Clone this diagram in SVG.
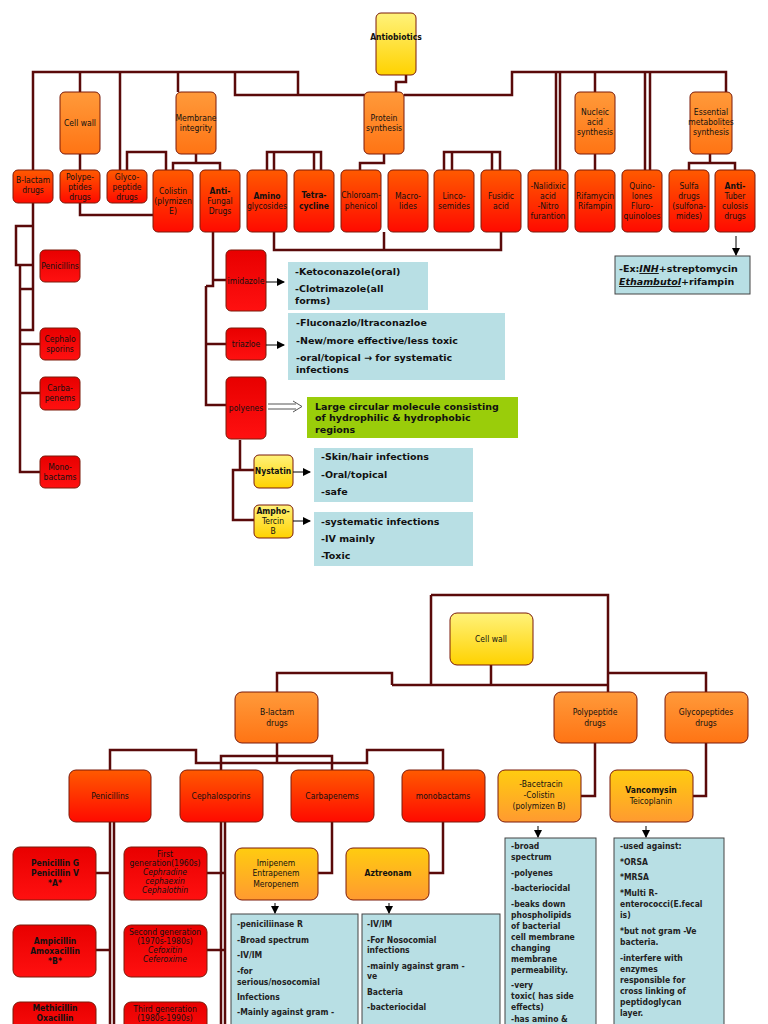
<svg xmlns="http://www.w3.org/2000/svg" width="768" height="1024" viewBox="0 0 768 1024">
<defs>
<linearGradient id="gy" x1="0" y1="0" x2="0" y2="1"><stop offset="0" stop-color="#fff27a"/><stop offset="1" stop-color="#ffd200"/></linearGradient>
<linearGradient id="go" x1="0" y1="0" x2="0" y2="1"><stop offset="0" stop-color="#ff9a3a"/><stop offset="1" stop-color="#ff7414"/></linearGradient>
<linearGradient id="gr" x1="0" y1="0" x2="0" y2="1"><stop offset="0" stop-color="#ff5a00"/><stop offset="1" stop-color="#ff0a00"/></linearGradient>
<linearGradient id="gd" x1="0" y1="0" x2="0" y2="1"><stop offset="0" stop-color="#e80000"/><stop offset="1" stop-color="#ff1010"/></linearGradient>
<linearGradient id="gyo" x1="0" y1="0" x2="0" y2="1"><stop offset="0" stop-color="#ffcc10"/><stop offset="1" stop-color="#ff9a30"/></linearGradient>
<marker id="ar" markerWidth="8" markerHeight="8" refX="7" refY="4" orient="auto" markerUnits="userSpaceOnUse"><path d="M0,0 L8,4 L0,8 z" fill="#000"/></marker>
</defs>
<style>
text{font-family:"DejaVu Sans Condensed","DejaVu Sans","Liberation Sans",sans-serif;font-size:8.5px;fill:#111;text-anchor:middle}
.b{font-weight:bold}
.n rect{stroke:#7a1a0a;stroke-width:1}
.y{fill:url(#gy)}.o{fill:url(#go)}.r{fill:url(#gr)}.d{fill:url(#gd)}.yo{fill:url(#gyo)}
.blue{fill:#b8dfe4;stroke:none}
.blue2{fill:#b8dfe4;stroke:#444;stroke-width:1}
.c path{fill:none;stroke:#5a0a0a;stroke-width:2.5}
.a{fill:none;stroke:#000;stroke-width:1;marker-end:url(#ar)}
.bt{font-family:"DejaVu Sans","Liberation Sans",sans-serif;font-size:9.5px;font-weight:bold;text-anchor:start}
.st{font-size:8.5px;text-anchor:start;font-weight:bold;fill:#222}
</style>
<rect width="768" height="1024" fill="#fff"/>

<g class="c">
<path d="M33,170 V72 H298 V95 M80,92 V72 M120,72 V170 M178,72 V92 M235,72 V95 H372 V92 M396,92 V82 H406 V75 M404,95 H512 V72 H726 V92 M556,72 V170 M560,72 V170 M595,72 V92 M645,72 V170 M650,72 V170"/>
<path d="M80,154 V170 M80,203 V215 H153 M127,170 V152 H166 V170 M196,154 V163 H173 V170 M196,163 H220 V170 M384,154 V163 H360 V170 M267,170 V152 H321 V170 M274,152 V170 M314,152 V170 M444,170 V152 H500 V170 M452,152 V170 M492,152 V170 M595,154 V170 M710,154 V163 H689 V170 M710,163 H735 V170"/>
<path d="M274,232 V250 H501 V232 M384,232 V250"/>
<path d="M33,203 V226 H16 V265 H33 M33,226 V330 H20 M20,265 V472 H40 M20,289 H33 M20,344 H40 M20,393 H40"/>
<path d="M213,232 V286 H206 M213,280 H226 M206,286 V405 H226 M206,344 H226 M240,440 V470 H233 V520 H254 M233,470 H254"/>
<path d="M431,595 V685 M431,595 H608 V692 M491,665 V685 M392,685 H608 M392,685 V673 H277 V692 M608,685 V673 H706 V692"/>
<path d="M277,743 V763 M110,770 V750 H196 V763 H367 V750 H443 V770 M221,770 V756 H332 V770 M595,743 V796 H581 M706,743 V796 H693"/>
<path d="M110,822 V1024 M110,873 H96 M110,950 H96 M114,822 V1024 M221,822 V1024 M207,873 H225 M207,950 H225 M225,822 V1024 M332,822 V873 H318 M443,822 V873 H429"/>
</g>

<g id="antibiotics" class="n"><rect class="y" x="376" y="13" width="40" height="62" rx="5"/><text class="b" x="396" y="40">Antiobiotics</text></g>
<g id="cellwall" class="n"><rect class="o" x="60" y="92" width="40" height="62" rx="5"/><text x="80" y="126">Cell wall</text></g>
<g id="membrane" class="n"><rect class="o" x="176" y="92" width="40" height="62" rx="5"/><text x="196" y="121">Membrane</text><text x="196" y="131">integrity</text></g>
<g id="protein" class="n"><rect class="o" x="364" y="92" width="40" height="62" rx="5"/><text x="384" y="121">Protein</text><text x="384" y="131">synthesis</text></g>
<g id="nucleic" class="n"><rect class="o" x="575" y="92" width="40" height="62" rx="5"/><text x="595" y="115">Nucleic</text><text x="595" y="125">acid</text><text x="595" y="135">synthesis</text></g>
<g id="essential" class="n"><rect class="o" x="690" y="92" width="42" height="62" rx="5"/><text x="711" y="115">Essential</text><text x="711" y="125">metabolites</text><text x="711" y="135">synthesis</text></g>

<g id="blactam" class="n"><rect class="r" x="13" y="170" width="40" height="33" rx="5"/><text x="33" y="183">B-lactam</text><text x="33" y="193">drugs</text></g>
<g id="polypep" class="n"><rect class="r" x="60" y="170" width="40" height="33" rx="5"/><text x="80" y="180">Polype-</text><text x="80" y="190">ptides</text><text x="80" y="200">drugs</text></g>
<g id="glycopep" class="n"><rect class="r" x="107" y="170" width="40" height="33" rx="5"/><text x="127" y="180">Glyco-</text><text x="127" y="190">peptide</text><text x="127" y="200">drugs</text></g>
<g id="colistin" class="n"><rect class="r" x="153" y="170" width="40" height="62" rx="5"/><text x="173" y="194">Colistin</text><text x="173" y="204">(plymizen</text><text x="173" y="214">E)</text></g>
<g id="antifungal" class="n"><rect class="r" x="200" y="170" width="40" height="62" rx="5"/><text class="b" x="220" y="194">Anti-</text><text x="220" y="204">Fungal</text><text x="220" y="214">Drugs</text></g>
<g id="amino" class="n"><rect class="r" x="247" y="170" width="40" height="62" rx="5"/><text class="b" x="267" y="199">Amino</text><text x="267" y="209">glycosides</text></g>
<g id="tetra" class="n"><rect class="r" x="294" y="170" width="40" height="62" rx="5"/><text class="b" x="314" y="198">Tetra-</text><text class="b" x="314" y="209">cycline</text></g>
<g id="chloram" class="n"><rect class="r" x="341" y="170" width="40" height="62" rx="5"/><text x="361" y="198">Chloroam-</text><text x="361" y="209">phenicol</text></g>
<g id="macro" class="n"><rect class="r" x="388" y="170" width="40" height="62" rx="5"/><text x="408" y="199">Macro-</text><text x="408" y="209">lides</text></g>
<g id="linco" class="n"><rect class="r" x="434" y="170" width="40" height="62" rx="5"/><text x="454" y="199">Linco-</text><text x="454" y="209">semides</text></g>
<g id="fusidic" class="n"><rect class="r" x="481" y="170" width="40" height="62" rx="5"/><text x="501" y="199">Fusidic</text><text x="501" y="209">acid</text></g>
<g id="nalidixic" class="n"><rect class="r" x="528" y="170" width="40" height="62" rx="5"/><text x="548" y="189">-Nalidixic</text><text x="548" y="199">acid</text><text x="548" y="209">-Nitro</text><text x="548" y="219">furantion</text></g>
<g id="rifamycin" class="n"><rect class="r" x="575" y="170" width="40" height="62" rx="5"/><text x="595" y="199">Rifamycin</text><text x="595" y="209">Rifampin</text></g>
<g id="quino" class="n"><rect class="r" x="622" y="170" width="40" height="62" rx="5"/><text x="642" y="189">Quino-</text><text x="642" y="199">lones</text><text x="642" y="209">Fluro-</text><text x="642" y="219">quinoloes</text></g>
<g id="sulfa" class="n"><rect class="r" x="669" y="170" width="40" height="62" rx="5"/><text x="689" y="189">Sulfa</text><text x="689" y="199">drugs</text><text x="689" y="209">(sulfona-</text><text x="689" y="219">mides)</text></g>
<g id="antituber" class="n"><rect class="r" x="715" y="170" width="40" height="62" rx="5"/><text class="b" x="735" y="189">Anti-</text><text x="735" y="199">Tuber</text><text x="735" y="209">culosis</text><text x="735" y="219">drugs</text></g>

<g id="penicillins1" class="n"><rect class="d" x="40" y="250" width="40" height="32" rx="5"/><text x="60" y="269">Penicillins</text></g>
<g id="cephalo1" class="n"><rect class="d" x="40" y="328" width="40" height="32" rx="5"/><text x="60" y="342">Cephalo</text><text x="60" y="352">sporins</text></g>
<g id="carba1" class="n"><rect class="d" x="40" y="377" width="40" height="33" rx="5"/><text x="60" y="391">Carba-</text><text x="60" y="401">penems</text></g>
<g id="mono1" class="n"><rect class="d" x="40" y="456" width="40" height="32" rx="5"/><text x="60" y="470">Mono-</text><text x="60" y="480">bactams</text></g>

<g id="imidazole" class="n"><rect class="d" x="226" y="250" width="40" height="61" rx="5"/><text x="246" y="284">imidazole</text></g>
<g id="triazole" class="n"><rect class="d" x="226" y="328" width="40" height="32" rx="5"/><text x="246" y="347">triazloe</text></g>
<g id="polyenes" class="n"><rect class="d" x="226" y="377" width="40" height="62" rx="5"/><text x="246" y="411">polyenes</text></g>
<g id="nystatin" class="n"><rect class="y" x="254" y="455" width="39" height="33" rx="5"/><text class="b" x="273" y="474">Nystatin</text></g>
<g id="ampho" class="n"><rect class="y" x="254" y="505" width="39" height="33" rx="5"/><text class="b" x="273" y="514">Ampho-</text><text x="273" y="524">Tercin</text><text x="273" y="534">B</text></g>

<g id="notes-top">
<rect class="blue" x="288" y="262" width="140" height="48"/>
<text class="bt" x="295" y="275">-Ketoconazole(oral)</text><text class="bt" x="295" y="292">-Clotrimazole(all</text><text class="bt" x="295" y="304">forms)</text>
<rect class="blue" x="288" y="313" width="217" height="67"/>
<text class="bt" x="296" y="326">-Fluconazlo/Itraconazloe</text><text class="bt" x="296" y="344">-New/more effective/less toxic</text><text class="bt" x="296" y="361">-oral/topical → for systematic</text><text class="bt" x="296" y="373">infections</text>
<rect x="307" y="397" width="211" height="41" fill="#9acd0a"/>
<text class="bt" x="315" y="410">Large circular molecule consisting</text><text class="bt" x="315" y="421">of hydrophilic &amp; hydrophobic</text><text class="bt" x="315" y="433">regions</text>
<rect class="blue" x="314" y="448" width="159" height="54"/>
<text class="bt" x="321" y="460">-Skin/hair infections</text><text class="bt" x="321" y="478">-Oral/topical</text><text class="bt" x="321" y="495">-safe</text>
<rect class="blue" x="314" y="512" width="159" height="54"/>
<text class="bt" x="321" y="525">-systematic infections</text><text class="bt" x="321" y="542">-IV mainly</text><text class="bt" x="321" y="559">-Toxic</text>
<rect class="blue2" x="615" y="256" width="135" height="38"/>
<text class="bt" x="619" y="272">-Ex:<tspan font-style="italic" text-decoration="underline">INH</tspan>+streptomycin</text>
<text class="bt" x="619" y="285"><tspan font-style="italic" text-decoration="underline">Ethambutol</tspan>+rifampin</text>
</g>
<g id="arrows-top">
<path class="a" d="M266,282 H284"/><path class="a" d="M266,345 H284"/><path class="a" d="M293,472 H310"/><path class="a" d="M293,521 H310"/><path class="a" d="M736,236 V255"/>
<path d="M268,404 H296 M268,409 H296 M293,401 L302,406.5 L293,412" fill="#fff" stroke="#555" stroke-width="1"/>
</g>

<g id="cellwall2" class="n"><rect class="y" x="450" y="613" width="83" height="52" rx="7"/><text x="491" y="642">Cell wall</text></g>
<g id="blactam2" class="n"><rect class="o" x="235" y="692" width="83" height="51" rx="7"/><text x="277" y="715">B-lactam</text><text x="277" y="726">drugs</text></g>
<g id="polypeptide2" class="n"><rect class="o" x="554" y="692" width="83" height="51" rx="7"/><text x="595" y="715">Polypeptide</text><text x="595" y="726">drugs</text></g>
<g id="glyco2" class="n"><rect class="o" x="665" y="692" width="83" height="51" rx="7"/><text x="706" y="715">Glycopeptides</text><text x="706" y="726">drugs</text></g>
<g id="penicillins2" class="n"><rect class="r" x="69" y="770" width="82" height="52" rx="7"/><text x="110" y="799">Penicillins</text></g>
<g id="cephalosporins2" class="n"><rect class="r" x="180" y="770" width="83" height="52" rx="7"/><text x="221" y="799">Cephalosporins</text></g>
<g id="carbapenems2" class="n"><rect class="r" x="291" y="770" width="83" height="52" rx="7"/><text x="332" y="799">Carbapenems</text></g>
<g id="monobactams2" class="n"><rect class="r" x="402" y="770" width="83" height="52" rx="7"/><text x="443" y="799">monobactams</text></g>
<g id="bacetracin" class="n"><rect class="yo" x="498" y="770" width="83" height="52" rx="7"/><text x="541" y="787">-Bacetracin</text><text x="539" y="798">-Colistin</text><text x="539" y="809">(polymizen B)</text></g>
<g id="vancomysin" class="n"><rect class="yo" x="610" y="770" width="83" height="52" rx="7"/><text class="b" x="651" y="793">Vancomysin</text><text x="651" y="804">Teicoplanin</text></g>

<g id="bl-boxes">
<g id="penG" class="n"><rect class="d" x="13" y="847" width="83" height="53" rx="7"/><text class="b" x="55" y="866">Penicillin G</text><text class="b" x="55" y="876">Penicillin V</text><text class="b" x="55" y="886">*A*</text></g>
<g id="ampi" class="n"><rect class="d" x="13" y="925" width="83" height="52" rx="7"/><text class="b" x="55" y="944">Ampicillin</text><text class="b" x="55" y="954">Amoxacillin</text><text class="b" x="55" y="964">*B*</text></g>
<g id="methi" class="n"><rect class="d" x="13" y="1002" width="83" height="40" rx="7"/><text class="b" x="55" y="1011">Methicillin</text><text class="b" x="55" y="1021">Oxacillin</text></g>
<g id="first" class="n"><rect class="d" x="124" y="847" width="83" height="53" rx="7"/><text x="165" y="857" font-size="7.5">First</text><text x="165" y="866" font-size="7.5">generation(1960s)</text><text x="165" y="875" font-size="7.5" font-style="italic">Cephradine</text><text x="165" y="884" font-size="7.5" font-style="italic">cephaexin</text><text x="165" y="893" font-size="7.5" font-style="italic">Cephalothin</text></g>
<g id="second" class="n"><rect class="d" x="124" y="925" width="83" height="52" rx="7"/><text x="165" y="935" font-size="7.5">Second generation</text><text x="165" y="944" font-size="7.5">(1970s-1980s)</text><text x="165" y="953" font-size="7.5" font-style="italic">Cefoxitin</text><text x="165" y="962" font-size="7.5" font-style="italic">Ceferoxime</text></g>
<g id="third" class="n"><rect class="d" x="124" y="1002" width="83" height="40" rx="7"/><text x="165" y="1012" font-size="7.5">Third generation</text><text x="165" y="1021" font-size="7.5">(1980s-1990s)</text></g>
<g id="imipenem" class="n"><rect class="yo" x="235" y="848" width="83" height="52" rx="7"/><text x="276" y="866">Imipenem</text><text x="276" y="876">Entrapenem</text><text x="276" y="887">Meropenem</text></g>
<g id="aztreonam" class="n"><rect class="yo" x="346" y="848" width="83" height="52" rx="7"/><text class="b" x="388" y="876">Aztreonam</text></g>
</g>

<g id="notes-bottom">
<rect class="blue2" x="231" y="914" width="127" height="115"/>
<text class="st" x="237" y="927">-peniciliinase R</text><text class="st" x="237" y="943">-Broad spectrum</text><text class="st" x="237" y="958">-IV/IM</text><text class="st" x="237" y="974">-for</text><text class="st" x="237" y="985">serious/nosocomial</text><text class="st" x="237" y="1000">Infections</text><text class="st" x="237" y="1015">-Mainly against gram -</text>
<rect class="blue2" x="362" y="914" width="138" height="115"/>
<text class="st" x="367" y="927">-IV/IM</text><text class="st" x="367" y="943">-For Nosocomial</text><text class="st" x="367" y="953">infections</text><text class="st" x="367" y="969">-mainly against gram -</text><text class="st" x="367" y="979">ve</text><text class="st" x="367" y="995">Bacteria</text><text class="st" x="367" y="1010">-bacteriocidal</text>
<rect class="blue2" x="505" y="838" width="91" height="190"/>
<text class="st" x="511" y="849">-broad</text><text class="st" x="511" y="860">spectrum</text><text class="st" x="511" y="876">-polyenes</text><text class="st" x="511" y="891">-bacteriocidal</text><text class="st" x="511" y="907">-beaks down</text><text class="st" x="511" y="918">phospholipids</text><text class="st" x="511" y="929">of bacterial</text><text class="st" x="511" y="940">cell membrane</text><text class="st" x="511" y="951">changing</text><text class="st" x="511" y="962">membrane</text><text class="st" x="511" y="973">permeability.</text><text class="st" x="511" y="988">-very</text><text class="st" x="511" y="999">toxic( has side</text><text class="st" x="511" y="1010">effects)</text><text class="st" x="511" y="1022">-has amino &amp;</text>
<rect class="blue2" x="614" y="838" width="110" height="190"/>
<text class="st" x="620" y="849">-used against:</text><text class="st" x="620" y="865">*ORSA</text><text class="st" x="620" y="880">*MRSA</text><text class="st" x="620" y="896">*Multi R-</text><text class="st" x="620" y="907">enterococci(E.fecal</text><text class="st" x="620" y="918">is)</text><text class="st" x="620" y="934">*but not gram -Ve</text><text class="st" x="620" y="945">bacteria.</text><text class="st" x="620" y="961">-interfere with</text><text class="st" x="620" y="972">enzymes</text><text class="st" x="620" y="983">responsible for</text><text class="st" x="620" y="994">cross linking of</text><text class="st" x="620" y="1005">peptidoglycan</text><text class="st" x="620" y="1016">layer.</text>
</g>
<g id="arrows-bottom">
<path class="a" d="M275,903 V913"/><path class="a" d="M389,903 V913"/><path class="a" d="M538,826 V837"/><path class="a" d="M646,826 V837"/>
</g>
</svg>
